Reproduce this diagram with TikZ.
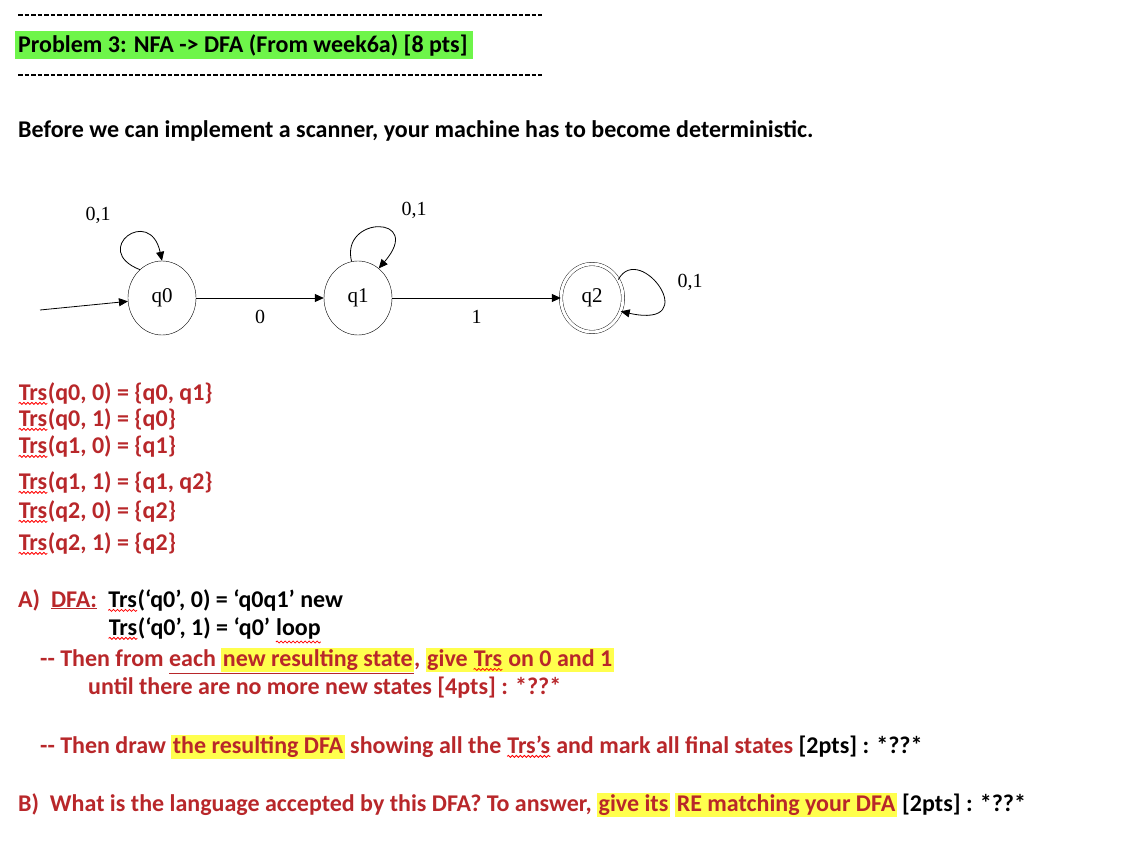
\documentclass[tikz,border=0pt]{standalone}
\usepackage{fontspec}
\setmainfont{Carlito}
\newfontfamily\tms{Liberation Serif}
\usetikzlibrary{decorations.pathmorphing,arrows.meta,shapes.geometric}
\definecolor{dred}{HTML}{B8272A}
\definecolor{hl}{HTML}{FFFF4D}
\definecolor{grn}{HTML}{6EF54A}
\newcommand\wv[1]{\tikz[baseline=(w.base)]{\node[inner sep=0pt](w){#1};\draw[red,line width=0.8pt,decorate,decoration={snake,amplitude=1pt,segment length=4pt}] ([yshift=-3pt]w.south west)--([yshift=-3pt]w.south east);}}
\newcommand\hlt[1]{{\setlength{\fboxsep}{1.5pt}\colorbox{hl}{#1}}}
\begin{document}
\begin{tikzpicture}[x=1pt,y=-1pt,
  txt/.style={anchor=base west,inner sep=0pt,font=\bfseries\fontsize{24}{27}\selectfont},
  rtxt/.style={txt,text=dred},
  st/.style={draw,ellipse,minimum width=68pt,minimum height=74pt,inner sep=0pt,font=\tms\fontsize{21}{24}\selectfont},
  lb/.style={font=\tms\fontsize{20}{24}\selectfont,inner sep=0pt},
  ar/.style={-{Triangle[length=9pt,width=8pt]},line width=0.8pt},
  dl/.style={line width=1.8pt,dash pattern=on 4.5pt off 2pt}]
\useasboundingbox (0,0) rectangle (1130,848);
\coordinate (d1a) at (18,15); \coordinate (d1b) at (542,15);
\coordinate (d2a) at (18,75); \coordinate (d2b) at (542,75);
\draw[dl] (d1a)--(d1b);
\draw[dl] (d2a)--(d2b);
\fill[grn] (15,31) rectangle (473,59);
\node[txt] (title) at (18,53) {Problem 3: NFA -> DFA (From week6a) [8 pts]};
\node[txt] (intro) at (18,138) {Before we can implement a scanner, your machine has to become deterministic.};
% automaton
\node[st] (q0) at (162,298) {q0};
\node[st] (q1) at (358,298) {q1};
\node[st,minimum width=62pt,minimum height=68pt,double,double distance=3pt] (q2) at (592,298) {q2};
\coordinate (s) at (40,310);
\draw[ar] (s) -- (q0);
\draw[ar] (q0) -- node[lb,below=12pt]{0} (q1);
\draw[ar] (q1) -- node[lb,below=12pt]{1} (q2);
\draw[ar] (q0.128) .. controls (90,250) and (150,205) .. (q0.north);
\draw[ar] (q1.100) .. controls (340,215) and (425,215) .. (q1.55);
\draw[ar] (q2.35) .. controls (640,240) and (705,330) .. (q2.-25);
\node[lb] (l0) at (98,215) {0,1};
\node[lb] (l1) at (414,210) {0,1};
\node[lb] (l2) at (690,282) {0,1};
% Trs
\node[rtxt] (t1) at (18,400) {\wv{Trs}(q0, 0) = \{q0, q1\}};
\node[rtxt] (t2) at (18,426) {\wv{Trs}(q0, 1) = \{q0\}};
\node[rtxt] (t3) at (18,453) {\wv{Trs}(q1, 0) = \{q1\}};
\node[rtxt] (t4) at (18,489) {\wv{Trs}(q1, 1) = \{q1, q2\}};
\node[rtxt] (t5) at (18,518) {\wv{Trs}(q2, 0) = \{q2\}};
\node[rtxt] (t6) at (18,550) {\wv{Trs}(q2, 1) = \{q2\}};
\node[rtxt] (a1) at (18,607) {A)\ \ \underline{DFA:}\ \ \textcolor{black}{\wv{Trs}(‘q0’, 0) = ‘q0q1’ new}};
\node[txt] (a2) at (108,635) {\wv{Trs}(‘q0’, 1) = ‘q0’ \wv{loop}};
\node[rtxt] (a3) at (40,666) {-{}- Then from \underline{each \hlt{new resulting state}}, \hlt{give \wv{Trs} on 0 and 1}};
\node[rtxt] (a4) at (88,694) {until there are no more new states [4pts] : *??*};
\node[rtxt] (a5) at (40,753) {-{}- Then draw \hlt{the resulting DFA} showing all the \wv{Trs’s} and mark all final states \textcolor{black}{[2pts] : *??*}};
\node[rtxt] (b1) at (18,811) {B)\ \ What is the language accepted by this DFA? To answer, \hlt{give its} \hlt{RE matching your DFA} \textcolor{black}{[2pts] : *??*}};
\end{tikzpicture}
\end{document}
